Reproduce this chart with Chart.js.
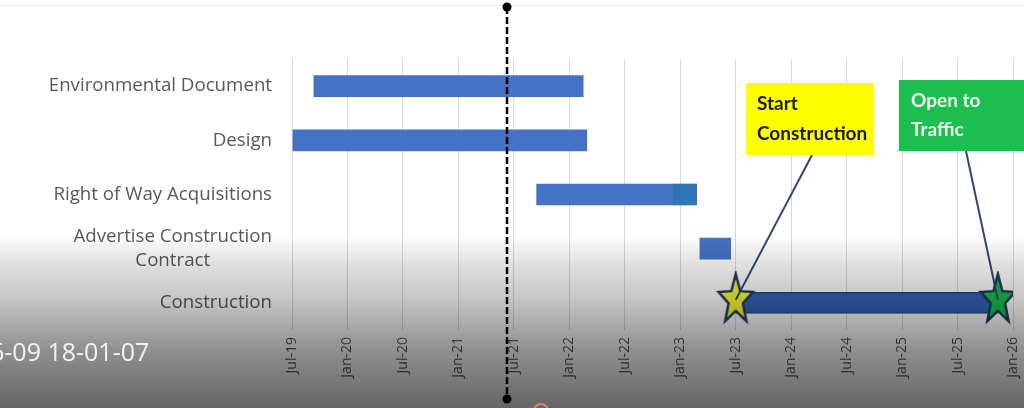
<!DOCTYPE html>
<html>
<head>
<meta charset="utf-8">
<title>Project schedule</title>
<script src="https://cdn.jsdelivr.net/npm/chart.js@4.4.1/dist/chart.umd.min.js"></script>
<style>
  html, body { margin: 0; padding: 0; background: #fff; }
  canvas { display: block; }
</style>
</head>
<body>
<canvas id="gantt" width="1024" height="408"></canvas>
<script>
// tasks, top to bottom
const tasks = ['Environmental Document', 'Design', 'Right of Way Acquisitions', ['Advertise Construction', 'Contract'], 'Construction'];
const taskStart = ['2019-09-12', '2019-07-04', '2021-09-15', '2023-03-05', '2023-07-01'];
const taskEnd   = ['2022-02-15', '2022-02-26', '2022-12-10', '2023-06-15', '2025-11-12'];
// second piece of the right of way bar
const extraStart = [null, null, '2022-12-10', null, null];
const extraEnd   = [null, null, '2023-02-23', null, null];
// milestones (stars)
const milestoneNames = ['Start Construction', 'Open to Traffic'];
const milestoneDates = ['2023-07-01', '2025-11-12'];
// dashed "today" line
const statusDate = '2021-06-08';
// axis
const tickLabels = ['Jul-19', 'Jan-20', 'Jul-20', 'Jan-21', 'Jul-21', 'Jan-22', 'Jul-22', 'Jan-23',
                    'Jul-23', 'Jan-24', 'Jul-24', 'Jan-25', 'Jul-25', 'Jan-26'];
const axisStart = '2019-07-01';
const axisEnd = '2026-01-01';

// date -> months since Jan 2019
function toM(s) {
    if (!s) return null;
    const [y, m, d] = s.split('-').map(Number);
    const days = new Date(y, m, 0).getDate();
    return (y - 2019) * 12 + (m - 1) + (d - 1) / days;
}

const xMin = toM(axisStart), xMax = toM(axisEnd);
const rowOf = name => tasks.indexOf(name);

function starImage(fill) {
    const rx = 18, ry = 26, pad = 3, lift = 3;
    const c = document.createElement('canvas');
    c.width = 2 * rx + 2 * pad;
    c.height = 2 * ry + 2 * pad + 2 * lift;
    const g = c.getContext('2d');
    const cx = c.width / 2, cy = c.height / 2 - lift;
    g.beginPath();
    for (let k = 0; k < 10; k++) {
        const r = k % 2 === 0 ? 1 : 0.42;
        const a = -Math.PI / 2 + k * Math.PI / 5;
        g.lineTo(cx + Math.cos(a) * rx * r, cy + Math.sin(a) * ry * r);
    }
    g.closePath();
    g.fillStyle = fill;
    g.fill();
    g.lineWidth = 2.5;
    g.strokeStyle = '#1f3a5c';
    g.stroke();
    return c;
}
const stars = [starImage('#fafa34'), starImage('#1ac050')];

const callouts = [
    { text: ['Start', 'Construction'], fill: '#ffff00', color: '#1a1a1a', box: [746, 83, 128, 72], textX: 757, lineY: [110, 140], from: [812, 155] },
    { text: ['Open to', 'Traffic'], fill: '#1cbf4f', color: '#eefdee', box: [899, 80, 140, 71], textX: 911, lineY: [107, 136], from: [966, 151] }
];

const ganttDecor = {
    id: 'ganttDecor',
    beforeDraw(chart) {
        const ctx = chart.ctx;
        ctx.save();
        ctx.fillStyle = '#fff';
        ctx.fillRect(0, 0, chart.width, chart.height);
        ctx.strokeStyle = '#ebebeb';
        ctx.lineWidth = 1;
        ctx.beginPath();
        ctx.moveTo(0, 5.5);
        ctx.lineTo(chart.width, 5.5);
        ctx.stroke();
        ctx.restore();
    },
    afterDatasetsDraw(chart) {
        const ctx = chart.ctx, xs = chart.scales.x, ys = chart.scales.y;
        ctx.save();
        // dashed status line
        const sx = Math.round(xs.getPixelForValue(toM(statusDate)));
        ctx.strokeStyle = '#000';
        ctx.lineWidth = 2.5;
        ctx.setLineDash([7, 3]);
        ctx.beginPath();
        ctx.moveTo(sx, 7);
        ctx.lineTo(sx, 399);
        ctx.stroke();
        ctx.setLineDash([]);
        ctx.fillStyle = '#000';
        [7, 399].forEach(y => { ctx.beginPath(); ctx.arc(sx, y, 4.5, 0, Math.PI * 2); ctx.fill(); });

        // callouts
        const yRow = ys.getPixelForValue(rowOf('Construction')) - 3;
        callouts.forEach((c, i) => {
            const tx = xs.getPixelForValue(toM(milestoneDates[i]));
            ctx.strokeStyle = '#2d4a6e';
            ctx.lineWidth = 2;
            ctx.beginPath();
            ctx.moveTo(c.from[0], c.from[1]);
            ctx.lineTo(tx, yRow);
            ctx.stroke();
            ctx.fillStyle = c.fill;
            ctx.fillRect(c.box[0], c.box[1], c.box[2], c.box[3]);
            ctx.fillStyle = c.color;
            ctx.font = 'bold 19px Lato';
            ctx.textAlign = 'left';
            ctx.textBaseline = 'alphabetic';
            c.text.forEach((t, k) => ctx.fillText(t, c.textX, c.lineY[k]));
        });
        ctx.restore();
    },
    afterDraw(chart) {
        const ctx = chart.ctx, ys = chart.scales.y;
        ctx.save();
        // category labels
        ctx.fillStyle = '#595959';
        ctx.font = '18.7px "Open Sans"';
        ctx.textBaseline = 'middle';
        const right = 272;
        tasks.forEach((t, i) => {
            const y = ys.getPixelForValue(i);
            const lines = Array.isArray(t) ? t : [t];
            const w = Math.max(...lines.map(l => ctx.measureText(l).width));
            const cx = right - w / 2;
            lines.forEach((l, k) => {
                ctx.textAlign = 'center';
                ctx.fillText(l, cx, y + (k - (lines.length - 1) / 2) * 24);
            });
        });
        // video overlay shade
        const gr = ctx.createLinearGradient(0, 235, 0, 408);
        gr.addColorStop(0, 'rgba(0,0,0,0)');
        gr.addColorStop(0.145, 'rgba(0,0,0,0.11)');
        gr.addColorStop(0.376, 'rgba(0,0,0,0.23)');
        gr.addColorStop(0.665, 'rgba(0,0,0,0.44)');
        gr.addColorStop(1, 'rgba(0,0,0,0.6)');
        ctx.fillStyle = gr;
        ctx.fillRect(0, 235, chart.width, 173);
        // timestamp
        ctx.fillStyle = '#f2f2f2';
        ctx.font = '25px "Open Sans"';
        ctx.textAlign = 'left';
        ctx.textBaseline = 'alphabetic';
        ctx.fillText('6-09 18-01-07', -10, 361);
        // cursor ring
        ctx.strokeStyle = '#e2846c';
        ctx.lineWidth = 2;
        ctx.beginPath();
        ctx.arc(541, 411, 7, 0, Math.PI * 2);
        ctx.stroke();
        ctx.restore();
    }
};

new Chart(document.getElementById('gantt'), {
    type: 'bar',
    data: {
        labels: tasks,
        datasets: [
            {
                type: 'scatter',
                label: 'Milestones',
                data: milestoneDates.map(d => ({ x: toM(d), y: 'Construction' })),
                pointStyle: stars,
                order: 0
            },
            {
                label: 'Right of way (extension)',
                data: extraStart.map((s, i) => s ? [toM(s), toM(extraEnd[i])] : null),
                backgroundColor: '#2E75B6',
                barThickness: 21,
                grouped: false,
                order: 1
            },
            {
                label: 'Schedule',
                data: taskStart.map((s, i) => [toM(s), toM(taskEnd[i])]),
                backgroundColor: ['#4472C4', '#4472C4', '#4472C4', '#4472C4', '#3563B8'],
                borderColor: ['#4472C4', '#4472C4', '#4472C4', '#4472C4', '#26488a'],
                borderWidth: [0, 0, 0, 0, 1.5],
                borderSkipped: false,
                barThickness: 21,
                grouped: false,
                order: 2
            }
        ]
    },
    options: {
        indexAxis: 'y',
        responsive: false,
        animation: false,
        layout: { padding: { left: 292, right: 11, top: 59, bottom: 0 } },
        plugins: { legend: { display: false }, tooltip: { enabled: false } },
        scales: {
            x: {
                type: 'linear',
                min: xMin,
                max: xMax,
                grid: { color: '#d9d9d9', drawTicks: false },
                border: { display: false },
                afterFit(scale) {
                    scale.height = 78;
                    scale.paddingLeft = 0;
                    scale.paddingRight = 0;
                },
                ticks: {
                    stepSize: 6,
                    autoSkip: false,
                    minRotation: 90,
                    maxRotation: 90,
                    padding: 7,
                    color: '#595959',
                    font: { family: 'Open Sans', size: 14 },
                    callback: v => tickLabels[Math.round((v - xMin) / 6)]
                }
            },
            y: {
                type: 'category',
                display: false,
                offset: true
            }
        }
    },
    plugins: [ganttDecor]
});
</script>
</body>
</html>
